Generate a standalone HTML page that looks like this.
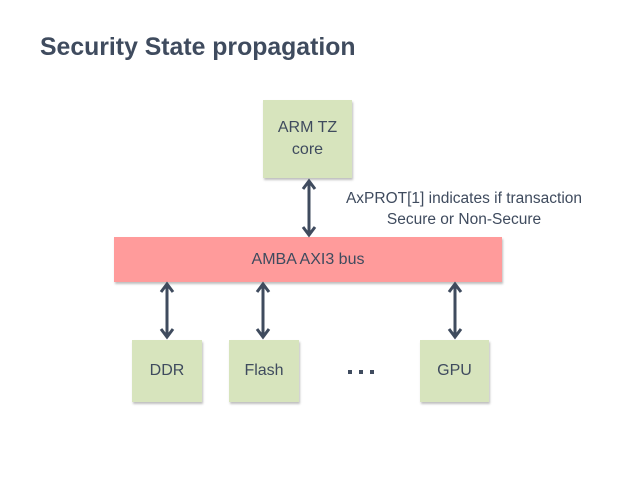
<!DOCTYPE html>
<html><head><style>
body{margin:0;width:638px;height:479px;background:#fff;position:relative;font-family:"Liberation Sans",sans-serif;color:#3f4b5e;overflow:hidden}
.t{position:absolute;left:40px;top:34px;font-size:24.8px;font-weight:bold;color:#3f4b5e;white-space:nowrap}
.b{position:absolute;background:#d7e4bd;box-shadow:1px 2px 2px rgba(0,0,0,0.25);display:flex;align-items:center;justify-content:center;text-align:center;font-size:16px;line-height:22px}
.bus{background:#ff9b9b}
.l{position:absolute;font-size:15.5px;text-align:center;line-height:21px;white-space:nowrap}
svg{position:absolute;left:0;top:0}
</style></head><body>
<div class="t">Security State propagation</div>
<div class="b" style="left:263px;top:100px;width:89px;height:78px">ARM TZ<br>core</div>
<div class="b bus" style="left:114px;top:237px;width:388px;height:45px">AMBA AXI3 bus</div>
<div class="b" style="left:132px;top:340px;width:70px;height:62px">DDR</div>
<div class="b" style="left:229px;top:340px;width:70px;height:62px">Flash</div>
<div class="b" style="left:420px;top:340px;width:69px;height:62px">GPU</div>
<div class="l" style="left:344px;top:188px;width:240px">AxPROT[1] indicates if transaction<br>Secure or Non-Secure</div>
<svg width="638" height="479" fill="none" stroke="#3f4b5e" stroke-width="3">
<line x1="309" y1="182" x2="309" y2="234"/><polyline points="303,189 309,181 315,189"/><polyline points="303,227 309,235 315,227"/>
<line x1="167" y1="285" x2="167" y2="336"/><polyline points="161,292 167,284 173,292"/><polyline points="161,329 167,337 173,329"/>
<line x1="263" y1="285" x2="263" y2="336"/><polyline points="257,292 263,284 269,292"/><polyline points="257,329 263,337 269,329"/>
<line x1="455" y1="285" x2="455" y2="336"/><polyline points="449,292 455,284 461,292"/><polyline points="449,329 455,337 461,329"/>
<g fill="#3f4b5e" stroke="none"><rect x="348" y="370" width="4" height="4"/><rect x="359" y="370" width="4" height="4"/><rect x="370" y="370" width="4" height="4"/></g>
</svg>
</body></html>
